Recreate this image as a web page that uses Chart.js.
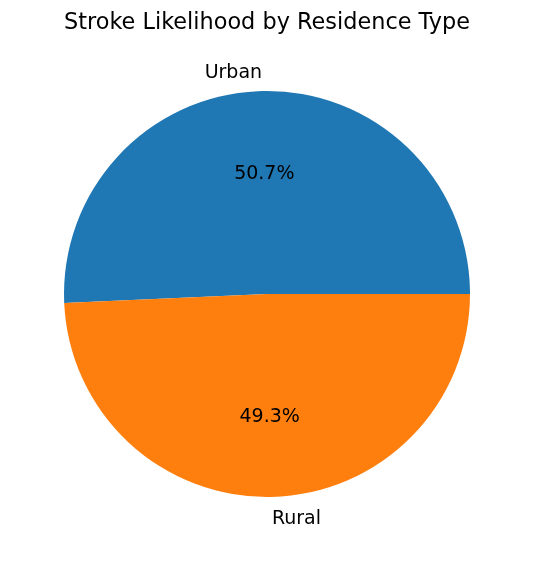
<!DOCTYPE html>
<html>
<head>
<meta charset="utf-8">
<script src="https://cdn.jsdelivr.net/npm/chart.js@4"></script>
<style>
  html, body { margin: 0; padding: 0; background: #fff; }
  #wrap { width: 534px; height: 562px; position: relative; }
</style>
</head>
<body>
<div id="wrap"><canvas id="pieChart"></canvas></div>
<script>
// data
var categories = ['Urban', 'Rural'];
var values = [50.7, 49.3];
var colors = ['#1f77b4', '#ff7f0e'];

var total = values.reduce(function (a, b) { return a + b; }, 0);
// matplotlib starts at 3 o'clock and goes counterclockwise
var rotation = 90 - values[0] / total * 360;

// draws the outside labels and the percentages like matplotlib's autopct
var pieLabels = {
    id: 'pieLabels',
    afterDatasetsDraw: function (chart) {
        var ctx = chart.ctx;
        var arcs = chart.getDatasetMeta(0).data;
        ctx.save();
        ctx.font = '19px "DejaVu Sans"';
        ctx.fillStyle = '#000';
        ctx.textBaseline = 'middle';
        for (var i = 0; i < arcs.length; i++) {
            var a = arcs[i];
            var mid = (a.startAngle + a.endAngle) / 2;
            var r = a.outerRadius;
            var lx = a.x + Math.cos(mid) * r * 1.1;
            var ly = a.y + Math.sin(mid) * r * 1.1;
            ctx.textAlign = Math.cos(mid) < 0 ? 'right' : 'left';
            ctx.fillText(categories[i], lx, ly + 2);

            var px = a.x + Math.cos(mid) * r * 0.6;
            var py = a.y + Math.sin(mid) * r * 0.6;
            ctx.textAlign = 'center';
            ctx.fillText((values[i] / total * 100).toFixed(1) + '%', px, py + 1.5);
        }
        ctx.restore();
    }
};

var pieChart = new Chart(document.getElementById('pieChart').getContext('2d'), {
    type: 'pie',
    data: {
        labels: categories,
        datasets: [{
            data: values,
            backgroundColor: colors,
            borderWidth: 0,
            hoverOffset: 0
        }]
    },
    options: {
        responsive: true,
        maintainAspectRatio: false,
        animation: false,
        events: [],
        rotation: rotation,
        layout: { padding: { top: 0, left: 64, right: 64, bottom: 65 } },
        plugins: {
            legend: { display: false },
            tooltip: { enabled: false },
            title: {
                display: true,
                text: 'Stroke Likelihood by Residence Type',
                color: '#000',
                font: { family: 'DejaVu Sans', size: 22.5, weight: 'normal', lineHeight: 1.2 },
                padding: { top: 10, bottom: 54 }
            }
        }
    },
    plugins: [pieLabels]
});
</script>
</body>
</html>
